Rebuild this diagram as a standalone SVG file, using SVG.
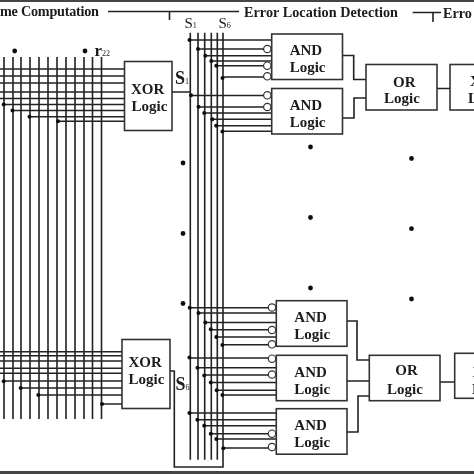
<svg xmlns="http://www.w3.org/2000/svg" width="474" height="474" viewBox="0 0 474 474">
<style>
.w{fill:none;stroke:#222;stroke-width:1.6}
.b{fill:#fff;stroke:#333;stroke-width:1.6}
.c{fill:#fff;stroke:#333;stroke-width:1.2}
.t{font-family:"Liberation Serif","Times New Roman",serif;font-weight:bold;fill:#1a1a1a;font-size:15px}
.h{font-size:14.2px}
.s{font-weight:normal;font-size:15px}
.l{font-size:18px}
.r{font-size:17px}
.u{font-size:8px;font-weight:normal}
.d{fill:#111}
</style>
<defs>
<filter id="soft" x="0" y="0" width="100%" height="100%"><feGaussianBlur stdDeviation="0.3"/></filter>
</defs>
<rect width="474" height="474" fill="#fff"/>
<g filter="url(#soft)">
<rect id="bar-top" x="0" y="0" width="474" height="2" fill="#444"/>
<rect id="bar-bottom" x="0" y="471" width="474" height="3" fill="#444"/>
<g id="connectors" class="w">
<path d="M4 57V419M13 57V419M21 57V419M30 57V419M39 57V419M48 57V419M57 57V419M66 57V419M75 57V419M84 57V419M92.5 57V419M101.5 57V419"/>
<path d="M0 69H124M0 76H124M0 83H124M0 92H124M0 98.5H124M4 104.5H124M12.5 110.5H124M29.5 116.7H124M58 121.3H124"/>
<path d="M0 351.7H122M0 355.7H122M0 361H122M0 368.3H122M0 373.3H122M4 381H122M20.7 388H122M38.3 395H122M102 404H122"/>
<path d="M190.3 32.7V459.7M198 32.7V459.7M204.7 32.7V459.7M211.3 32.7V459.7M217.3 32.7V459.7M223 32.7V467H174.3V371H170M172 92H190.3"/>
<path d="M190 40H272M198 49H264M205.3 55.7H272M211.3 61H272M216.5 65.7H264M222.5 77H264"/>
<path d="M190.5 95.5H264M198.3 107H264M204.7 113H272M211.5 119.3H272M217 125.7H272M222.7 131.3H272"/>
<path d="M190 307.7H269M198.3 313H276M205 322.5H276M211 329.8H269M216.5 337H276M222.5 344.8H269"/>
<path d="M190 358H269M198 367.7H276M204.7 375H269M211 382.5H276M217 390.3H276M222.7 395H276"/>
<path d="M190 413H276M198 419.8H276M204.7 425.7H276M211 433.7H269M216.5 439H276M223 448H269"/>
<path d="M342.5 55.5H353.7V79.5H366M342.5 118H354V98H367M437 88.5H450"/>
<path d="M347 321H357V360H369.3M347 381H369.3M347 432H358V396H369.3M440 382H454.5"/>
<path d="M108 11.5H239M169.5 11.5V20M412.7 12.5H441M433 12.5V22"/>
</g>
<g id="junctions" class="d">
<circle cx="3.7" cy="104.5" r="2"/><circle cx="12.5" cy="110.5" r="2"/><circle cx="29.5" cy="116.7" r="2"/><circle cx="58" cy="121.3" r="2"/>
<circle cx="3.7" cy="381.3" r="2"/><circle cx="20.7" cy="388" r="2"/><circle cx="38.3" cy="395" r="2"/><circle cx="102" cy="404" r="2"/>
<circle cx="189.5" cy="40" r="2"/><circle cx="198" cy="49" r="2"/><circle cx="205.3" cy="55.7" r="2"/><circle cx="211.3" cy="61" r="2"/><circle cx="216.3" cy="65.7" r="2"/><circle cx="222.5" cy="78" r="2"/>
<circle cx="191" cy="95.3" r="2"/><circle cx="198.5" cy="106.7" r="2"/><circle cx="204.2" cy="113" r="2"/><circle cx="212.3" cy="119.3" r="2"/><circle cx="216.2" cy="125.7" r="2"/><circle cx="222.4" cy="131.4" r="2"/>
<circle cx="189.7" cy="307.7" r="2"/><circle cx="198.5" cy="313" r="2"/><circle cx="205.3" cy="322.5" r="2"/><circle cx="210.8" cy="329.3" r="2"/><circle cx="216.3" cy="337" r="2"/><circle cx="222.4" cy="345" r="2"/>
<circle cx="189.4" cy="357.6" r="2"/><circle cx="197.5" cy="367.7" r="2"/><circle cx="204.2" cy="375.6" r="2"/><circle cx="210.8" cy="382.4" r="2"/><circle cx="216.7" cy="390.3" r="2"/><circle cx="222.4" cy="395" r="2"/>
<circle cx="189.4" cy="413" r="2"/><circle cx="197.4" cy="419.8" r="2"/><circle cx="204.2" cy="425.7" r="2"/><circle cx="210.8" cy="433.7" r="2"/><circle cx="216.3" cy="439" r="2"/><circle cx="223.3" cy="448.2" r="2"/>
</g>
<g id="ellipsis-dots" class="d">
<circle cx="14.7" cy="51" r="2.4"/><circle cx="85" cy="51" r="2.4"/>
<circle cx="183" cy="163" r="2.4"/><circle cx="183" cy="233.5" r="2.4"/><circle cx="183" cy="303.5" r="2.4"/>
<circle cx="310.5" cy="147" r="2.4"/><circle cx="310.5" cy="217.5" r="2.4"/><circle cx="310.5" cy="288" r="2.4"/>
<circle cx="411.5" cy="158.5" r="2.4"/><circle cx="411.5" cy="228.7" r="2.4"/><circle cx="411.5" cy="299" r="2.4"/>
</g>
<g id="inverters" class="c">
<circle cx="267.3" cy="49" r="3.7"/><circle cx="267.3" cy="65.7" r="3.7"/><circle cx="267.3" cy="76.3" r="3.7"/>
<circle cx="267.3" cy="95.3" r="3.7"/><circle cx="267.3" cy="107" r="3.7"/>
<circle cx="272" cy="307.5" r="3.7"/><circle cx="272" cy="330" r="3.7"/><circle cx="272" cy="344.3" r="3.7"/>
<circle cx="272" cy="358.7" r="3.7"/><circle cx="272" cy="374.5" r="3.7"/>
<circle cx="272" cy="433.7" r="3.7"/><circle cx="272" cy="447" r="3.7"/>
</g>
<g id="xor-top"><rect class="b" x="124.5" y="61.5" width="47.5" height="69"/><text class="t" x="131" y="94">XOR</text><text class="t" x="131.5" y="111">Logic</text></g>
<g id="xor-bottom"><rect class="b" x="122" y="339.5" width="48" height="69"/><text class="t" x="128.5" y="366.5">XOR</text><text class="t" x="128.5" y="383.5">Logic</text></g>
<g id="and-1"><rect class="b" x="271.7" y="34" width="70.8" height="45.5"/><text class="t" x="289.7" y="55">AND</text><text class="t" x="289.7" y="72">Logic</text></g>
<g id="and-2"><rect class="b" x="271.7" y="88.5" width="70.8" height="45.5"/><text class="t" x="289.7" y="110">AND</text><text class="t" x="289.7" y="127">Logic</text></g>
<g id="or-top"><rect class="b" x="366" y="64.5" width="71" height="45.5"/><text class="t" x="393" y="87">OR</text><text class="t" x="384" y="103">Logic</text></g>
<g id="xor-out-top"><rect class="b" x="450" y="64.5" width="30" height="45.5"/><text class="t" x="470" y="86">X</text><text class="t" x="468" y="103">L</text></g>
<g id="and-3"><rect class="b" x="276.3" y="300.7" width="70.7" height="45.6"/><text class="t" x="294.3" y="322">AND</text><text class="t" x="294.3" y="339">Logic</text></g>
<g id="and-4"><rect class="b" x="276.3" y="355.3" width="70.7" height="45.4"/><text class="t" x="294.3" y="376.5">AND</text><text class="t" x="294.3" y="394">Logic</text></g>
<g id="and-5"><rect class="b" x="276.3" y="408.7" width="70.7" height="45.5"/><text class="t" x="294.3" y="430">AND</text><text class="t" x="294.3" y="447">Logic</text></g>
<g id="or-bottom"><rect class="b" x="369.3" y="355.3" width="70.7" height="45.4"/><text class="t" x="395.3" y="374.5">OR</text><text class="t" x="387" y="394">Logic</text></g>
<g id="xor-out-bottom"><rect class="b" x="454.7" y="353.3" width="30" height="45"/><text class="t" x="472.5" y="377">X</text><text class="t" x="472" y="394">L</text></g>
<g id="labels">
<text class="t h" x="0" y="15.5" textLength="99">me Computation</text>
<text class="t h" x="244" y="17" textLength="154">Error Location Detection</text>
<text class="t h" x="443" y="18">Erro</text>
<text class="t r" x="94.5" y="56">r<tspan class="u">22</tspan></text>
<text class="t s" x="184.5" y="28">S<tspan class="u">1</tspan></text>
<text class="t s" x="218.5" y="28">S<tspan class="u">6</tspan></text>
<text class="t l" x="175" y="84">S<tspan class="u">1</tspan></text>
<text class="t l" x="175.5" y="390">S<tspan class="u">6</tspan></text>
</g>
</g>
</svg>
